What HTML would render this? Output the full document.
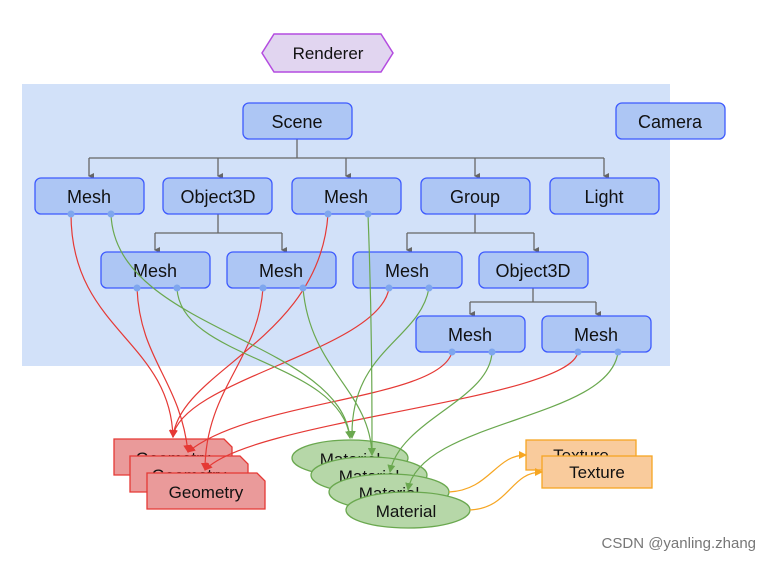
<!DOCTYPE html>
<html><head><meta charset="utf-8"><style>
html,body{margin:0;padding:0;background:#fff;}
svg{display:block;font-family:"Liberation Sans",Arial,sans-serif;}
</style></head><body>
<svg width="771" height="561" viewBox="0 0 771 561" xmlns="http://www.w3.org/2000/svg">
<defs>
<marker id="ag" markerWidth="6" markerHeight="6" refX="3" refY="5" orient="auto-start-reverse" markerUnits="userSpaceOnUse"><path d="M0,0 L6,0 L3,6 z" fill="#666"/></marker>
<marker id="agr" markerWidth="8" markerHeight="8" refX="7" refY="4" orient="auto" markerUnits="userSpaceOnUse"><path d="M0,0 L8,4 L0,8 z" fill="#6aa84f"/></marker>
<marker id="arr" markerWidth="8" markerHeight="8" refX="7" refY="4" orient="auto" markerUnits="userSpaceOnUse"><path d="M0,0 L8,4 L0,8 z" fill="#e53935"/></marker>
<marker id="ao" markerWidth="8" markerHeight="8" refX="7" refY="4" orient="auto" markerUnits="userSpaceOnUse"><path d="M0,0 L8,4 L0,8 z" fill="#f6a623"/></marker>
</defs>

<polygon points="274,34 381,34 393,53 381,72 274,72 262,53" fill="#e1d5f0" stroke="#b44ce0" stroke-width="1.5"/>
<text x="328" y="59" font-size="17" text-anchor="middle" fill="#111">Renderer</text>

<rect x="22" y="84" width="648" height="282" fill="#d2e1f9"/>

<g stroke="#666" stroke-width="1.3" fill="none">
<path d="M297,139 V158 M89,158 H604"/>
<path d="M89,158 V176" marker-end="url(#ag)"/>
<path d="M218,158 V176" marker-end="url(#ag)"/>
<path d="M346,158 V176" marker-end="url(#ag)"/>
<path d="M475,158 V176" marker-end="url(#ag)"/>
<path d="M604,158 V176" marker-end="url(#ag)"/>
<path d="M218,214 V233 M155,233 H282"/>
<path d="M155,233 V250" marker-end="url(#ag)"/>
<path d="M282,233 V250" marker-end="url(#ag)"/>
<path d="M475,214 V233 M407,233 H534"/>
<path d="M407,233 V250" marker-end="url(#ag)"/>
<path d="M534,233 V250" marker-end="url(#ag)"/>
<path d="M533,288 V302 M470,302 H596"/>
<path d="M470,302 V314" marker-end="url(#ag)"/>
<path d="M596,302 V314" marker-end="url(#ag)"/>
</g>

<g fill="#adc6f4" stroke="#3d5afe" stroke-width="1.3">
<rect x="243" y="103" width="109" height="36" rx="6"/>
<rect x="616" y="103" width="109" height="36" rx="6"/>
<rect x="35" y="178" width="109" height="36" rx="6"/>
<rect x="163" y="178" width="109" height="36" rx="6"/>
<rect x="292" y="178" width="109" height="36" rx="6"/>
<rect x="421" y="178" width="109" height="36" rx="6"/>
<rect x="550" y="178" width="109" height="36" rx="6"/>
<rect x="101" y="252" width="109" height="36" rx="6"/>
<rect x="227" y="252" width="109" height="36" rx="6"/>
<rect x="353" y="252" width="109" height="36" rx="6"/>
<rect x="479" y="252" width="109" height="36" rx="6"/>
<rect x="416" y="316" width="109" height="36" rx="6"/>
<rect x="542" y="316" width="109" height="36" rx="6"/>
</g>
<g font-size="18" text-anchor="middle" fill="#111">
<text x="297" y="128">Scene</text>
<text x="670" y="128">Camera</text>
<text x="89" y="203">Mesh</text>
<text x="218" y="203">Object3D</text>
<text x="346" y="203">Mesh</text>
<text x="475" y="203">Group</text>
<text x="604" y="203">Light</text>
<text x="155" y="277">Mesh</text>
<text x="281" y="277">Mesh</text>
<text x="407" y="277">Mesh</text>
<text x="533" y="277">Object3D</text>
<text x="470" y="341">Mesh</text>
<text x="596" y="341">Mesh</text>
</g>

<g stroke="#e53935" stroke-width="1.3" font-size="17" text-anchor="middle">
<path d="M114,439 H224 L232,447 V475 H114 Z" fill="#ea9a9a"/>
<text x="173" y="464" fill="#111" stroke="none">Geometry</text>
<path d="M130,456 H240 L248,464 V492 H130 Z" fill="#ea9a9a"/>
<text x="189" y="481" fill="#111" stroke="none">Geometry</text>
<path d="M147,473 H257 L265,481 V509 H147 Z" fill="#ea9a9a"/>
<text x="206" y="498" fill="#111" stroke="none">Geometry</text>
</g>

<g fill="#b6d7a8" stroke="#6aa84f" stroke-width="1.3" font-size="17" text-anchor="middle">
<ellipse cx="350" cy="458" rx="58" ry="18"/>
<text x="350" y="465" fill="#111" stroke="none">Material</text>
<ellipse cx="369" cy="475" rx="58" ry="18"/>
<text x="369" y="482" fill="#111" stroke="none">Material</text>
<ellipse cx="389" cy="492" rx="60" ry="18"/>
<text x="389" y="499" fill="#111" stroke="none">Material</text>
<ellipse cx="408" cy="510" rx="62" ry="18"/>
<text x="406" y="517" fill="#111" stroke="none">Material</text>
</g>

<rect x="526" y="440" width="110" height="30" fill="#f9cb9c" stroke="#f6a623" stroke-width="1.3"/>
<text x="581" y="461" font-size="17" text-anchor="middle" fill="#111">Texture</text>
<rect x="542" y="456" width="110" height="32" fill="#f9cb9c" stroke="#f6a623" stroke-width="1.3"/>
<text x="597" y="478" font-size="17" text-anchor="middle" fill="#111">Texture</text>

<g stroke="#e53935" stroke-width="1.2" fill="none">
<path d="M71,214 C71,330 170,340 173,437" marker-end="url(#arr)"/>
<path d="M137,288 C140,360 180,380 188,452" marker-end="url(#arr)"/>
<path d="M328,214 C320,340 180,370 173,437" marker-end="url(#arr)"/>
<path d="M263,288 C258,360 205,390 205,470" marker-end="url(#arr)"/>
<path d="M389,288 C380,350 180,380 173,437" marker-end="url(#arr)"/>
<path d="M452,352 C440,400 250,400 188,452" marker-end="url(#arr)"/>
<path d="M578,352 C570,400 250,420 205,470" marker-end="url(#arr)"/>
</g>
<g stroke="#6aa84f" stroke-width="1.2" fill="none">
<path d="M111,214 C115,330 340,340 350,438" marker-end="url(#agr)"/>
<path d="M177,288 C180,360 340,360 350,438" marker-end="url(#agr)"/>
<path d="M303,288 C310,370 370,390 372,455" marker-end="url(#agr)"/>
<path d="M368,214 C372,320 372,400 372,455" marker-end="url(#agr)"/>
<path d="M429,288 C420,340 350,350 352,438" marker-end="url(#agr)"/>
<path d="M492,352 C490,400 400,420 390,472" marker-end="url(#agr)"/>
<path d="M618,352 C610,420 420,420 408,490" marker-end="url(#agr)"/>
</g>
<g stroke="#f6a623" stroke-width="1.2" fill="none">
<path d="M449,492 C490,490 495,455 526,455" marker-end="url(#ao)"/>
<path d="M470,510 C510,508 510,472 542,472" marker-end="url(#ao)"/>
</g>

<g fill="#7ea6ee">
<circle cx="71" cy="214" r="3.5"/><circle cx="111" cy="214" r="3.5"/>
<circle cx="328" cy="214" r="3.5"/><circle cx="368" cy="214" r="3.5"/>
<circle cx="137" cy="288" r="3.5"/><circle cx="177" cy="288" r="3.5"/>
<circle cx="263" cy="288" r="3.5"/><circle cx="303" cy="288" r="3.5"/>
<circle cx="389" cy="288" r="3.5"/><circle cx="429" cy="288" r="3.5"/>
<circle cx="452" cy="352" r="3.5"/><circle cx="492" cy="352" r="3.5"/>
<circle cx="578" cy="352" r="3.5"/><circle cx="618" cy="352" r="3.5"/>
</g>

<text x="756" y="548" font-size="15" text-anchor="end" fill="#777">CSDN @yanling.zhang</text>
</svg>
</body></html>
